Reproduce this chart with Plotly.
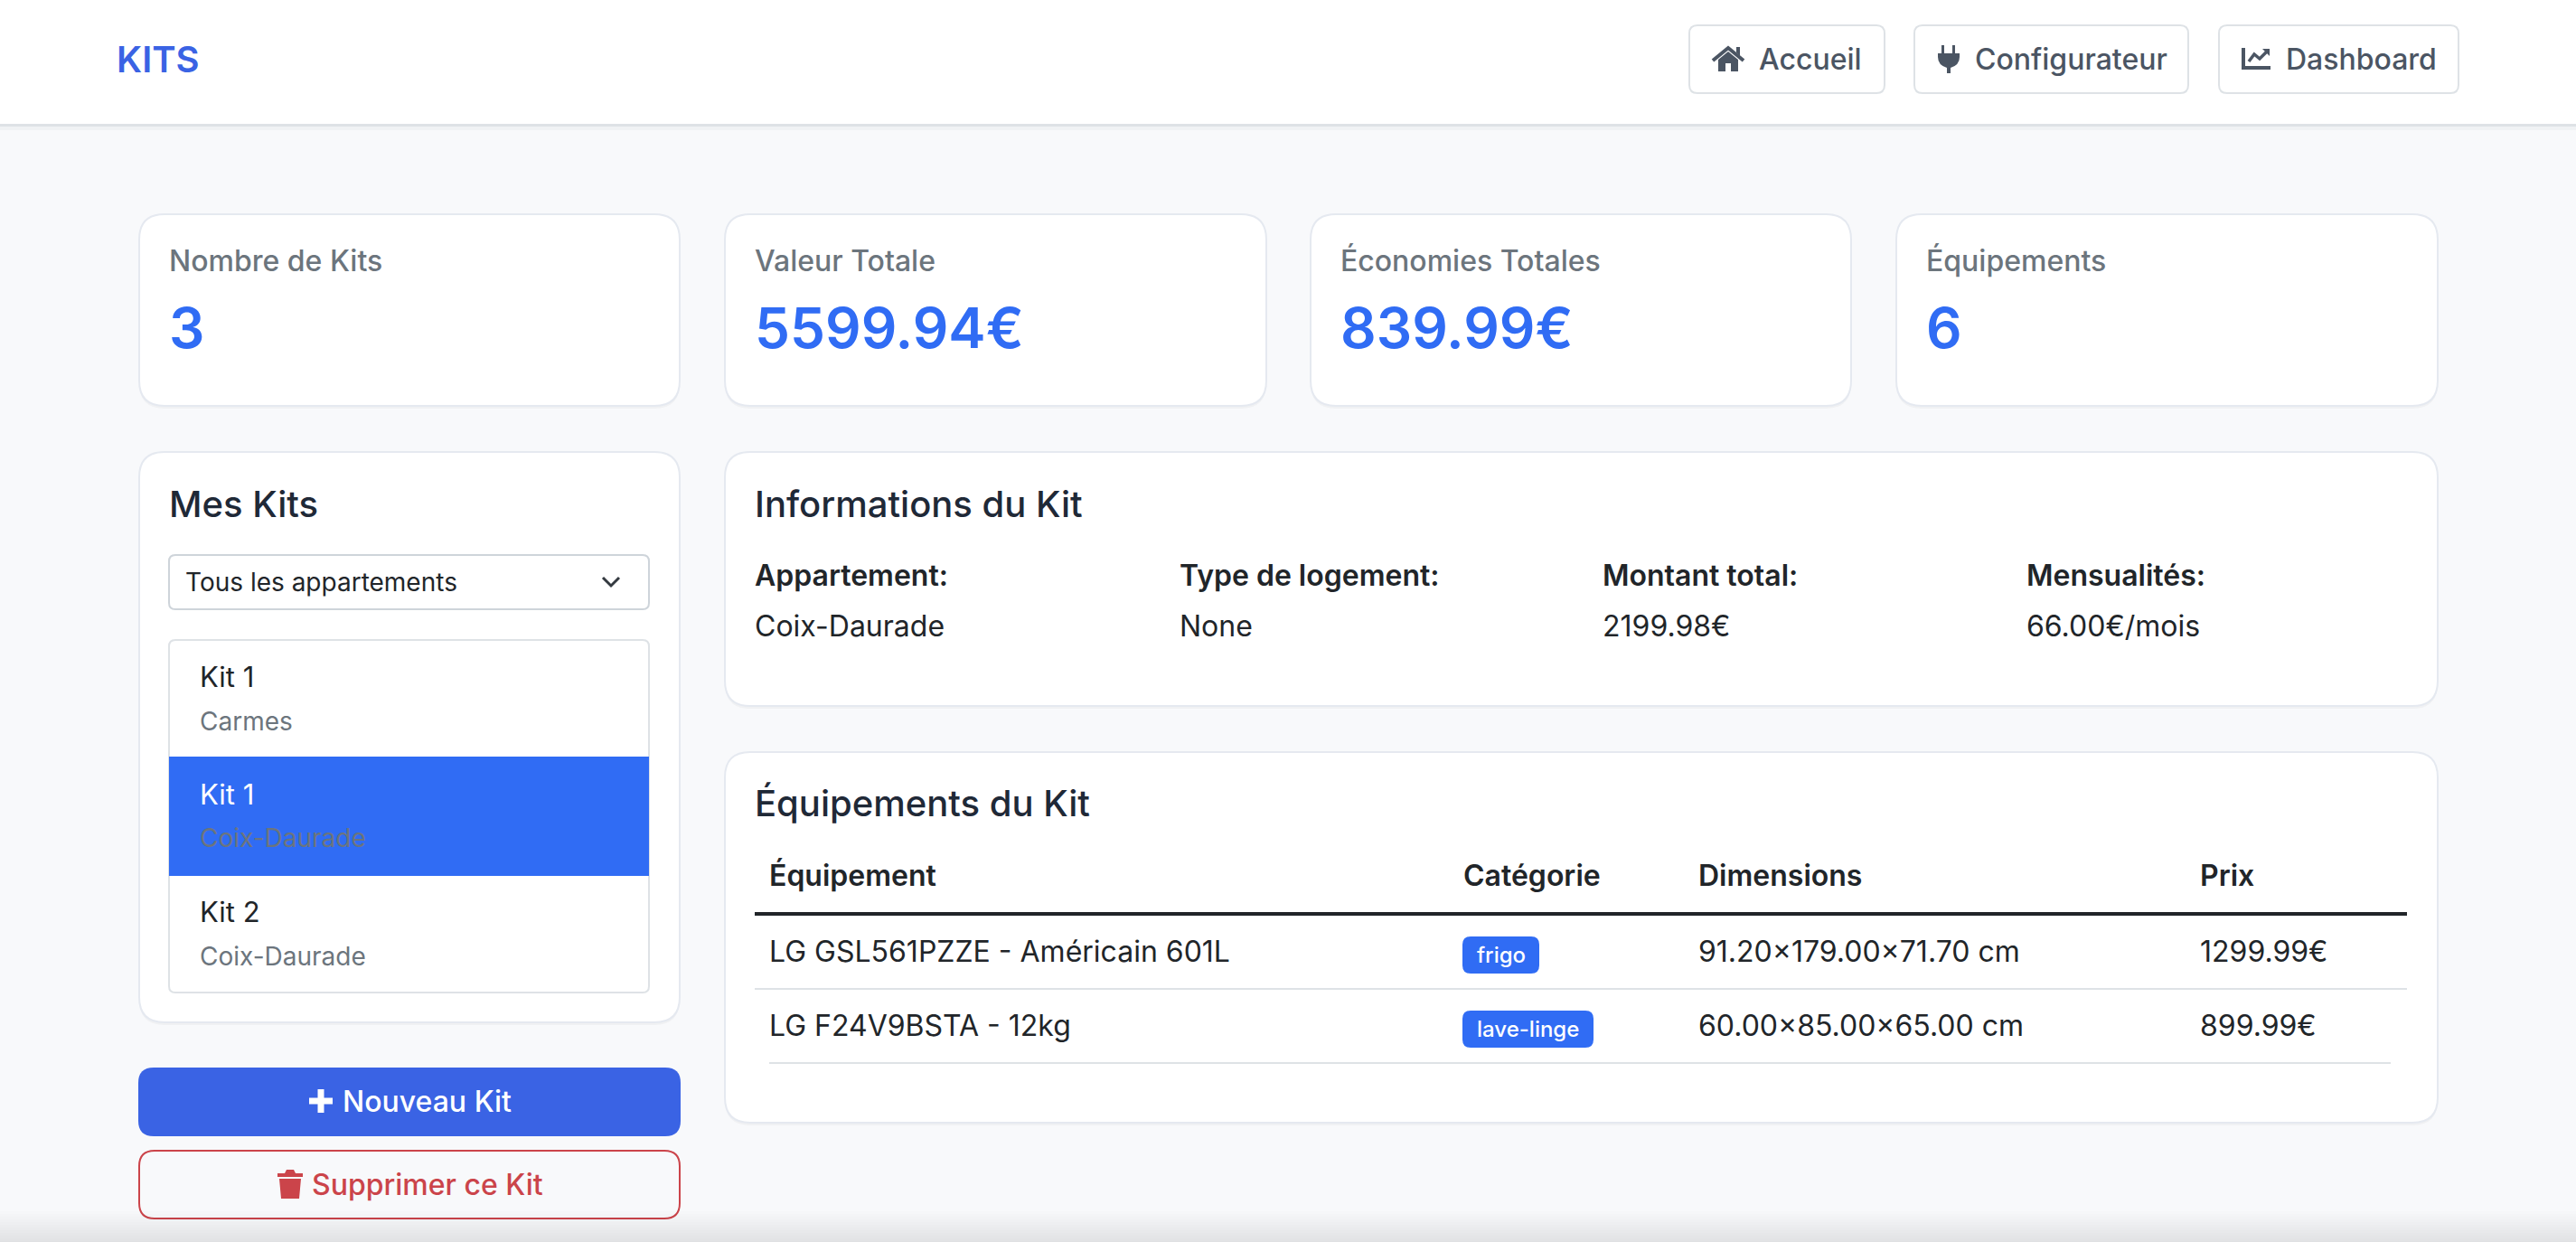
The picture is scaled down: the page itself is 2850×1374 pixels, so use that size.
from __future__ import annotations

import plotly.graph_objects as go

FONT = "Inter"
WIDTH = 2850
HEIGHT = 1374

BRAND = "KITS"
NAV_LABELS = ["Accueil", "Configurateur", "Dashboard"]
STAT_LABELS = ["Nombre de Kits", "Valeur Totale", "Économies Totales", "Équipements"]
STAT_VALUES = ["3", "5599.94€", "839.99€", "6"]
FILTER_LABEL = "Tous les appartements"
KIT_NAMES = ["Kit 1", "Kit 1", "Kit 2"]
KIT_PLACES = ["Carmes", "Coix-Daurade", "Coix-Daurade"]
INFO_LABELS = ["Appartement:", "Type de logement:", "Montant total:", "Mensualités:"]
INFO_VALUES = ["Coix-Daurade", "None", "2199.98€", "66.00€/mois"]
TABLE_HEADERS = ["Équipement", "Catégorie", "Dimensions", "Prix"]
ITEM_NAMES = ["LG GSL561PZZE - Américain 601L", "LG F24V9BSTA - 12kg"]
ITEM_CATEGORIES = ["frigo", "lave-linge"]
ITEM_DIMENSIONS = ["91.20×179.00×71.70 cm", "60.00×85.00×65.00 cm"]
ITEM_PRICES = ["1299.99€", "899.99€"]

BLUE = "#306cf4"
BUTTON_BLUE = "#3a63e4"
RED = "#cb444a"
DARK = "#1f2937"
INK = "#212529"
GREY = "#6c757d"
NAV_GREY = "#4b5563"
CARD_BORDER = "#e5e9f0"
LINE = "#dee2e6"

fig = go.Figure()


def rounded(x0, y0, x1, y1, r):
    return (
        f"M{x0 + r},{y0} L{x1 - r},{y0} Q{x1},{y0} {x1},{y0 + r} L{x1},{y1 - r} Q{x1},{y1} {x1 - r},{y1} "
        f"L{x0 + r},{y1} Q{x0},{y1} {x0},{y1 - r} L{x0},{y0 + r} Q{x0},{y0} {x0 + r},{y0} Z"
    )


def path(d, fill=None, line=None, width=0):
    fig.add_shape(
        type="path",
        path=d,
        xref="x",
        yref="y",
        fillcolor=fill or "rgba(0,0,0,0)",
        line={"color": line or "rgba(0,0,0,0)", "width": width},
    )


def rect(x0, y0, x1, y1, fill):
    fig.add_shape(type="rect", x0=x0, y0=y0, x1=x1, y1=y1, xref="x", yref="y", fillcolor=fill, line={"width": 0})


def card(x0, y0, x1, y1):
    path(rounded(x0, y0 + 3, x1, y1 + 3, 28), fill="rgba(15,23,42,0.035)")
    path(rounded(x0, y0, x1, y1, 28), fill="#ffffff", line=CARD_BORDER, width=2)


def text(x, y, label, size, color, weight=400, anchor="left"):
    # annotations carry a small padding, pull left-aligned labels back onto their column
    fig.add_annotation(
        x=x - 2 if anchor == "left" else x,
        y=y,
        text=label,
        xref="x",
        yref="y",
        xanchor=anchor,
        yanchor="middle",
        showarrow=False,
        align=anchor,
        font={"family": FONT, "size": size, "color": color, "weight": weight},
    )


# top bar
rect(0, 138, WIDTH, 144, "rgba(15,23,42,0.03)")
rect(0, 0, WIDTH, 138, "#ffffff")
rect(0, 137, WIDTH, 140, LINE)
text(129, 65, BRAND, 40, BUTTON_BLUE, 600)

nav_boxes = [(1869, 2085), (2118, 2421), (2455, 2720)]
nav_text_x = [1946, 2185, 2529]
for (x0, x1), tx, label in zip(nav_boxes, nav_text_x, NAV_LABELS):
    path(rounded(x0, 28, x1, 103, 9), fill="#ffffff", line=LINE, width=2)
    text(tx, 65, label, 32, NAV_GREY, 500)

# nav icons
path("M1895,67 L1912,53 L1929,67", line=NAV_GREY, width=4)
path("M1921,52 H1925 V62 L1921,58 Z", fill=NAV_GREY)
path("M1901,66 L1912,57 L1923,66 V79 H1915 V70 H1909 V79 H1901 Z", fill=NAV_GREY)
path("M2148,50 H2151 V59 H2148 Z M2160,50 H2163 V59 H2160 Z", fill=NAV_GREY)
path("M2144,59 H2168 V63 Q2168,72 2158,75 V81 H2154 V75 Q2144,72 2144,63 Z", fill=NAV_GREY)
path("M2480,53 H2484 V73 H2512 V77 H2480 Z", fill=NAV_GREY)
path("M2488,68 L2494,60 L2500,65 L2508,57", line=NAV_GREY, width=3.5)
path("M2503,54 H2511 V62 Z", fill=NAV_GREY)

# stat cards
stat_boxes = [(154, 752), (802, 1401), (1450, 2048), (2098, 2697)]
for (x0, x1), label, value in zip(stat_boxes, STAT_LABELS, STAT_VALUES):
    card(x0, 237, x1, 449)
    text(x0 + 33, 288, label, 32, GREY, 500)
    text(x0 + 33, 362, value, 62, BLUE, 600)

# kit list card
card(154, 500, 752, 1131)
text(187, 557, "Mes Kits", 40, DARK, 500)
path(rounded(187, 614, 718, 674, 7), fill="#ffffff", line="#ced4da", width=2)
text(205, 644, FILTER_LABEL, 28, INK)
path("M667,639 L676,648 L685,639", line="#343a40", width=3)

path(rounded(187, 708, 718, 1098, 7), fill="#ffffff", line=LINE, width=2)
rect(187, 837, 718, 969, BLUE)
kit_name_y = [748, 878, 1008]
kit_place_y = [798, 927, 1058]
for i, (name, place) in enumerate(zip(KIT_NAMES, KIT_PLACES)):
    active = i == 1
    text(221, kit_name_y[i], name, 31, "#ffffff" if active else INK)
    text(221, kit_place_y[i], place, 28, GREY)

# action buttons
path(rounded(153, 1181, 753, 1257, 17), fill=BUTTON_BLUE)
path("M355,1205 V1231 M342,1218 H368", line="#ffffff", width=7)
text(379, 1218, "Nouveau Kit", 32, "#ffffff", 500)
path(rounded(154, 1273, 752, 1348, 17), line=RED, width=2)
path("M307,1298 H335 V1302 H307 Z M315,1298 L317,1294 H325 L327,1298 Z", fill=RED)
path("M309,1304 H333 L331,1326 H311 Z", fill=RED)
text(345, 1310, "Supprimer ce Kit", 32, RED, 500)

# kit details card
card(802, 500, 2697, 781)
text(835, 557, "Informations du Kit", 40, DARK, 500)
info_x = [835, 1305, 1773, 2242]
for x, label, value in zip(info_x, INFO_LABELS, INFO_VALUES):
    text(x, 636, label, 32, INK, 600)
    text(x, 692, value, 32, INK)

# equipment table card
card(802, 832, 2697, 1242)
text(835, 888, "Équipements du Kit", 40, DARK, 500)
column_x = [851, 1619, 1879, 2434]
for x, label in zip(column_x, TABLE_HEADERS):
    text(x, 968, label, 32, INK, 600)
rect(835, 1009, 2663, 1013, INK)
rect(835, 1093, 2663, 1095, LINE)
rect(851, 1175, 2645, 1177, LINE)

row_y = [1052, 1134]
badge_boxes = [(1618, 1703, 1036, 1077), (1618, 1763, 1118, 1159)]
for i, y in enumerate(row_y):
    x0, x1, y0, y1 = badge_boxes[i]
    text(column_x[0], y, ITEM_NAMES[i], 32, INK)
    path(rounded(x0, y0, x1, y1, 9), fill=BLUE)
    text((x0 + x1) / 2, (y0 + y1) / 2, ITEM_CATEGORIES[i], 24, "#ffffff", 500, anchor="center")
    text(column_x[2], y, ITEM_DIMENSIONS[i], 32, INK)
    text(column_x[3], y, ITEM_PRICES[i], 32, INK)

# soft shadow along the bottom edge of the window
for step in range(12):
    rect(0, 1340 + step * 3, WIDTH, HEIGHT, "rgba(0,0,0,0.007)")

fig.update_layout(
    width=WIDTH,
    height=HEIGHT,
    margin={"l": 0, "r": 0, "t": 0, "b": 0},
    paper_bgcolor="#f8f9fb",
    plot_bgcolor="#f8f9fb",
    showlegend=False,
    xaxis={"range": [0, WIDTH], "visible": False, "fixedrange": True},
    yaxis={"range": [HEIGHT, 0], "visible": False, "fixedrange": True},
)

fig.write_html(
    "out.html",
    config={"displayModeBar": False},
    post_script="document.body.style.margin='0';document.body.style.overflow='hidden';",
)
